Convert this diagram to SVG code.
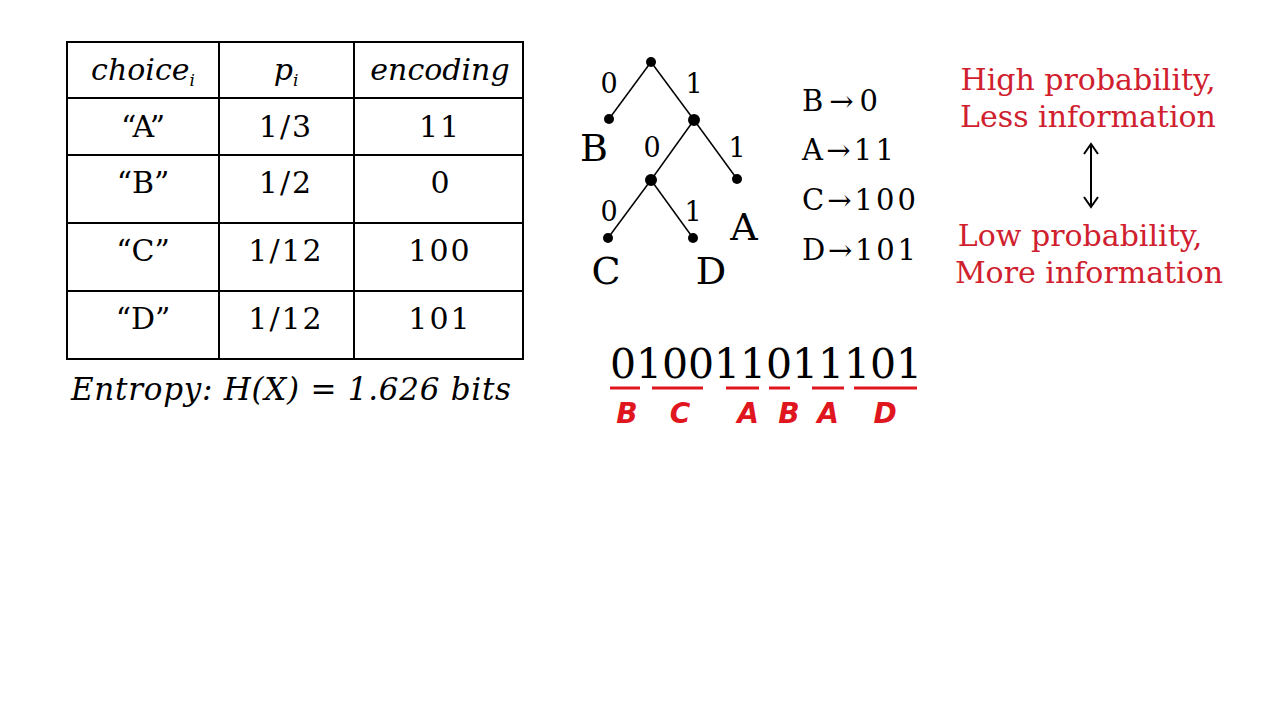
<svg xmlns="http://www.w3.org/2000/svg" width="1280" height="720" viewBox="0 0 1280 720">
<style>
.s{font-family:"DejaVu Serif","Liberation Serif",serif;fill:#000}
.i{font-style:italic}
.r{fill:#d0202e;font-family:"DejaVu Serif",serif}
.rl{fill:#e0161e;font-family:"DejaVu Sans",sans-serif;font-weight:bold;font-style:italic;font-size:28px}
.e{stroke:#000;stroke-width:1.5}
.u{stroke:#e0161e;stroke-width:3}
</style>
<rect width="1280" height="720" fill="#fff"/>
<g id="table" fill="none" stroke="#000" stroke-width="2">
<rect x="67" y="42" width="456" height="317"/>
<line x1="219" y1="42" x2="219" y2="359"/><line x1="354" y1="42" x2="354" y2="359"/>
<line x1="67" y1="98" x2="523" y2="98"/><line x1="67" y1="155" x2="523" y2="155"/>
<line x1="67" y1="223" x2="523" y2="223"/><line x1="67" y1="291" x2="523" y2="291"/>
</g>
<g id="table-text" class="s" font-size="30" text-anchor="middle">
<text x="143" y="80" class="i">choice<tspan font-size="17" dy="6">i</tspan></text>
<text x="286" y="80" class="i">p<tspan font-size="17" dy="6">i</tspan></text>
<text x="440" y="80" class="i">encoding</text>
<text x="143" y="137">“A”</text><text x="286" y="137" letter-spacing="2">1/3</text><text x="440" y="137" letter-spacing="2">11</text>
<text x="143" y="193">“B”</text><text x="286" y="193" letter-spacing="2">1/2</text><text x="440" y="193">0</text>
<text x="143" y="261">“C”</text><text x="286" y="261" letter-spacing="2">1/12</text><text x="440" y="261" letter-spacing="2">100</text>
<text x="143" y="329">“D”</text><text x="286" y="329" letter-spacing="2">1/12</text><text x="440" y="329" letter-spacing="2">101</text>
<text x="291" y="400" class="i" font-size="31" textLength="440" lengthAdjust="spacing">Entropy: H(X) = 1.626 bits</text>
</g>
<g id="connectors">
<line class="e" x1="651" y1="62" x2="609" y2="119"/><line class="e" x1="651" y1="62" x2="694" y2="120"/>
<line class="e" x1="694" y1="120" x2="651" y2="180"/><line class="e" x1="694" y1="120" x2="737" y2="179"/>
<line class="e" x1="651" y1="180" x2="608" y2="238"/><line class="e" x1="651" y1="180" x2="693" y2="238"/>
</g>
<g id="tree-nodes" fill="#000">
<circle cx="651" cy="62" r="5"/><circle cx="609" cy="119" r="5"/><circle cx="694" cy="120" r="6"/>
<circle cx="737" cy="179" r="5"/><circle cx="651" cy="180" r="6"/><circle cx="608" cy="238" r="5"/><circle cx="693" cy="238" r="5"/>
</g>
<g id="tree-labels" class="s" text-anchor="middle">
<text x="609" y="93" font-size="27">0</text><text x="694" y="93" font-size="27">1</text>
<text x="652" y="157" font-size="27">0</text><text x="737" y="157" font-size="27">1</text>
<text x="609" y="221" font-size="27">0</text><text x="693" y="221" font-size="27">1</text>
<text x="594" y="161" font-size="38">B</text><text x="744" y="240" font-size="38">A</text>
<text x="606" y="284" font-size="38">C</text><text x="711" y="284" font-size="38">D</text>
</g>
<g id="codes" class="s" font-size="29">
<text x="802" y="111" textLength="76" lengthAdjust="spacing">B→0</text><text x="802" y="160" textLength="92" lengthAdjust="spacing">A→11</text>
<text x="802" y="210" textLength="114" lengthAdjust="spacing">C→100</text><text x="802" y="260" textLength="114" lengthAdjust="spacing">D→101</text>
</g>
<g id="info" class="r" font-size="30" text-anchor="middle">
<text x="1088" y="90">High probability,</text><text x="1088" y="127">Less information</text>
<text x="1080" y="246">Low probability,</text><text x="1089" y="283">More information</text>
</g>
<g id="arrow" stroke="#000" stroke-width="2" fill="none">
<line x1="1091" y1="146" x2="1091" y2="205"/>
<polyline points="1084,154 1091,144 1098,154"/><polyline points="1084,197 1091,207 1098,197"/>
</g>
<g id="bits">
<text x="610" y="378" class="s" font-size="41" textLength="312" lengthAdjust="spacing">010011011101</text>
<line class="u" x1="610" y1="388" x2="640" y2="388"/><line class="u" x1="652" y1="388" x2="703" y2="388"/>
<line class="u" x1="726" y1="388" x2="759" y2="388"/><line class="u" x1="769" y1="388" x2="790" y2="388"/>
<line class="u" x1="812" y1="388" x2="844" y2="388"/><line class="u" x1="854" y1="388" x2="917" y2="388"/>
<g class="rl" text-anchor="middle">
<text x="627" y="423">B</text><text x="680" y="423">C</text><text x="748" y="423">A</text>
<text x="789" y="423">B</text><text x="828" y="423">A</text><text x="885" y="423">D</text>
</g>
</g>
</svg>
